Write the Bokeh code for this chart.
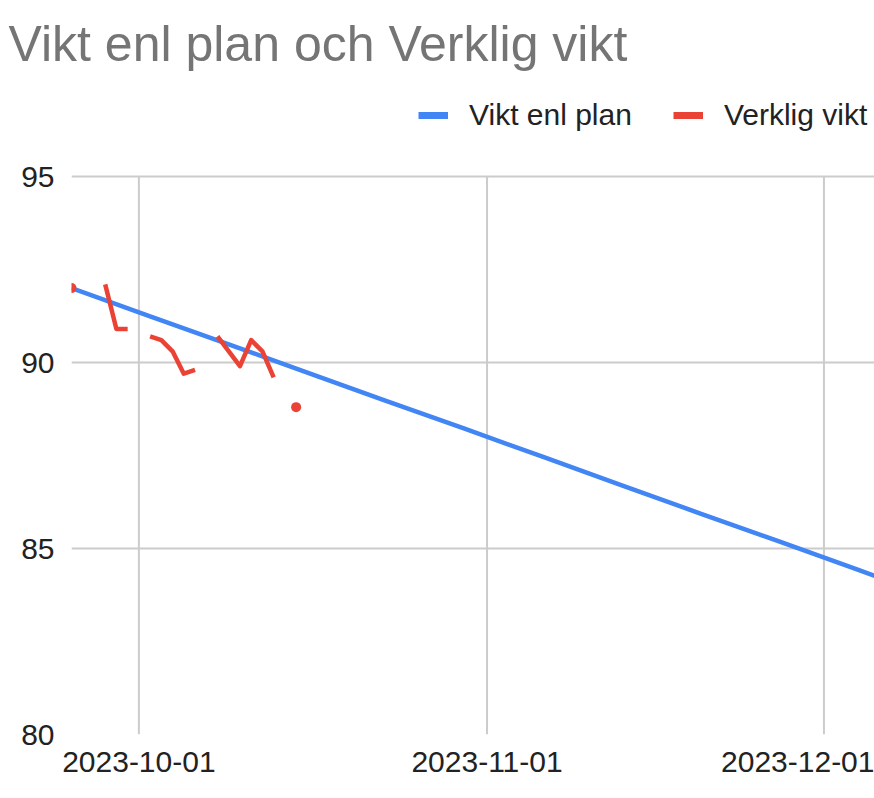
import numpy as np
import pandas as pd
from bokeh.plotting import figure
from bokeh.models import (Range1d, FixedTicker, DatetimeTickFormatter, Legend,
                          LegendItem)
from bokeh.embed import file_html
from bokeh.resources import INLINE

# ---------------- data ----------------
title_text = "Vikt enl plan och Verklig vikt"
plan_name = "Vikt enl plan"
actual_name = "Verklig vikt"

plan_dates = ["2023-09-25", "2023-10-02", "2023-10-09", "2023-10-16", "2023-10-23",
              "2023-10-30", "2023-11-06", "2023-11-13", "2023-11-20", "2023-11-27",
              "2023-12-04", "2023-12-11"]
plan_kg = [92.0, 91.24, 90.49, 89.73, 88.97, 88.22, 87.46, 86.70, 85.94, 85.19, 84.43, 83.67]

actual_dates = ["2023-09-25", "2023-09-26", "2023-09-27", "2023-09-28", "2023-09-29",
                "2023-09-30", "2023-10-01", "2023-10-02", "2023-10-03", "2023-10-04",
                "2023-10-05", "2023-10-06", "2023-10-07", "2023-10-08", "2023-10-10",
                "2023-10-11", "2023-10-12", "2023-10-13", "2023-10-14", "2023-10-15"]
actual_kg = [92.0, None, None, 92.1, 90.9, 90.9, None, 90.7, 90.6, 90.3,
             89.7, 89.8, None, 90.7, 89.9, 90.6, 90.3, 89.6, None, 88.8]

y_ticks = [80, 85, 90, 95]
x_tick_dates = ["2023-10-01", "2023-11-01", "2023-12-01"]
x_start = "2023-09-25 00:00"
x_end = "2023-12-05 12:00"
y_min, y_max = 80, 95

# ---------------- layout / styles ----------------
W, H = 874, 798
FRAME_LEFT = 71
FRAME_TOP = 81          # frame starts under the title; legend sits inside it
GRID_TOP = 176          # pixel row of y_max
GRID_BOTTOM = 734       # pixel row of y_min
BLUE = "#4285F4"
RED = "#EA4335"
GRID = "#cccccc"
FONT = "Liberation Sans"

def ms(s):
    return pd.Timestamp(s).value / 1e6

plan_x = pd.to_datetime(plan_dates)
act_x = pd.to_datetime(actual_dates)
act_y = np.array([np.nan if v is None else v for v in actual_kg], dtype=float)

# isolated points (no valid neighbour) are drawn as dots
iso = []
for i, v in enumerate(act_y):
    if np.isnan(v):
        continue
    left_ok = i > 0 and not np.isnan(act_y[i - 1])
    right_ok = i < len(act_y) - 1 and not np.isnan(act_y[i + 1])
    if not left_ok and not right_ok:
        iso.append(i)

# extend the y range upward so the legend area lies inside the frame
px_per_unit = (GRID_BOTTOM - GRID_TOP) / (y_max - y_min)
y_top = y_max + (GRID_TOP - FRAME_TOP) / px_per_unit

p = figure(width=W, height=H, x_axis_type="datetime",
           output_backend="svg", toolbar_location=None,
           x_range=Range1d(ms(x_start), ms(x_end)),
           y_range=Range1d(y_min, y_top),
           min_border_left=FRAME_LEFT, min_border_right=0,
           min_border_top=FRAME_TOP, min_border_bottom=H - GRID_BOTTOM)
p.outline_line_color = None
p.background_fill_color = "white"
p.border_fill_color = "white"

xticks = [ms(d) for d in x_tick_dates]

# vertical gridlines only between y_min and y_max
p.segment(x0=xticks, y0=[y_min] * len(xticks), x1=xticks, y1=[y_max] * len(xticks),
          line_color=GRID, line_width=2)
p.xgrid.visible = False
p.ygrid.ticker = FixedTicker(ticks=y_ticks)
p.ygrid.grid_line_color = GRID
p.ygrid.grid_line_width = 2

# lines
p.line(plan_x, plan_kg, line_color=BLUE, line_width=4.5)
p.line(act_x, act_y, line_color=RED, line_width=4.5, line_join="round")
p.scatter(act_x[iso], act_y[iso], size=10, fill_color=RED, line_color=None)

# axes
p.xaxis.ticker = FixedTicker(ticks=xticks)
fmt = "%Y-%m-%d"
p.xaxis.formatter = DatetimeTickFormatter(days=fmt, months=fmt, years=fmt, hours=fmt,
                                          hourmin=fmt, minutes=fmt, minsec=fmt,
                                          seconds=fmt, milliseconds=fmt, microseconds=fmt)
p.yaxis.ticker = FixedTicker(ticks=y_ticks)
for ax in (p.xaxis[0], p.yaxis[0]):
    ax.axis_line_color = None
    ax.major_tick_line_color = None
    ax.minor_tick_line_color = None
    ax.major_tick_out = 0
    ax.major_tick_in = 0
    ax.major_label_text_font = FONT
    ax.major_label_text_font_size = "30px"
    ax.major_label_text_color = "#222222"
p.xaxis.major_label_standoff = 17
p.yaxis.major_label_standoff = 17

# legend (thick swatches), inside the frame above the grid
leg_plan = p.line(x=[np.nan], y=[np.nan], line_color=BLUE, line_width=7)
leg_act = p.line(x=[np.nan], y=[np.nan], line_color=RED, line_width=7)
legend = Legend(items=[LegendItem(label=plan_name, renderers=[leg_plan], index=0),
                       LegendItem(label=actual_name, renderers=[leg_act], index=0)],
                location=(418 - FRAME_LEFT, GRID_BOTTOM - 132), orientation="horizontal",
                glyph_width=30, glyph_height=34, label_height=34,
                label_standoff=21, spacing=41, padding=0, margin=0,
                label_text_font=FONT, label_text_font_size="30px",
                label_text_color="#222222",
                border_line_alpha=0, background_fill_alpha=0)
p.add_layout(legend)

# title
p.title.text = title_text
p.title.text_font = FONT
p.title.text_font_size = "50px"
p.title.text_font_style = "normal"
p.title.text_color = "#757575"
p.title.align = "left"
p.title.offset = 8 - FRAME_LEFT
p.title.standoff = 20

open("out.html", "w").write(file_html(p, INLINE))
